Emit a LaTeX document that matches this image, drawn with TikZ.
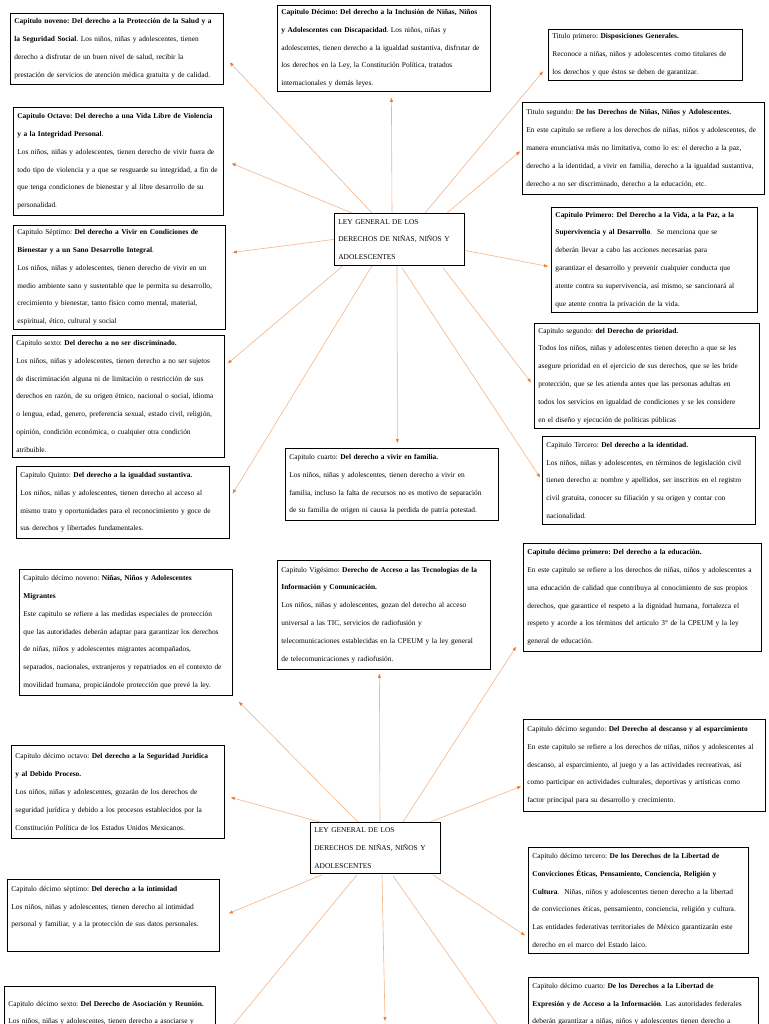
\documentclass[tikz,border=0pt]{standalone}
\usepackage{fontspec}
\setmainfont{Liberation Serif}
\usetikzlibrary{arrows.meta}
\definecolor{lineaor}{RGB}{245,180,135}
\definecolor{puntaor}{RGB}{237,125,49}
\frenchspacing

\begin{document}
\begin{tikzpicture}[x=1pt,y=-1pt,
    caja/.style 2 args={draw,line width=0.8pt,anchor=north west,align=left,
      inner xsep=4pt,inner ysep=2pt,text width=#1,minimum height=#2,
      font=\fontsize{7.4}{17.8}\selectfont},
    liga/.style={every edge/.style={draw=lineaor,line width=0.6pt,
      -{Triangle[length=4pt,width=3pt,color=puntaor]}}}]
  \fill[white] (0,0) rectangle (768,1024);
  \path[use as bounding box] (0,0) rectangle (768,1024);
  \clip (0,0) rectangle (768,1024);

  % mitad de arriba
  \node[caja={205pt}{71pt}] (cap9) at (10,13) {\textbf{Capitulo noveno: Del derecho a la Protección de la Salud y a}\\
    \textbf{la Seguridad Social}. Los niños, niñas y adolescentes, tienen\\
    derecho a disfrutar de un buen nivel de salud, recibir la\\
    prestación de servicios de atención médica gratuita y de calidad.};
  \node[caja={202pt}{108pt}] (cap8) at (13,107) {\textbf{Capitulo Octavo: Del derecho a una Vida Libre de Violencia}\\
    \textbf{y a la Integridad Personal}.\\
    Los niños, niñas y adolescentes, tienen derecho de vivir fuera de\\
    todo tipo de violencia y a que se resguarde su integridad, a fin de\\
    que tenga condiciones de bienestar y al libre desarrollo de su\\
    personalidad.};
  \node[caja={205pt}{86pt}] (cap10) at (277,5) {\textbf{Capitulo Décimo: Del derecho a la Inclusión de Niñas, Niños}\\
    \textbf{y Adolescentes con Discapacidad}. Los niños, niñas y\\
    adolescentes, tienen derecho a la igualdad sustantiva, disfrutar de\\
    los derechos en la Ley, la Constitución Política, tratados\\
    internacionales y demás leyes.};
  \node[caja={186pt}{51pt}] (tit1) at (548,29) {Titulo primero: \textbf{Disposiciones Generales.}\\
    Reconoce a niñas, niños y adolescentes como titulares de\\
    los derechos y que éstos se deben de garantizar.};
  \node[caja={234pt}{92pt}] (tit2) at (522,102) {Titulo segundo: \textbf{De los Derechos de Niñas, Niños y Adolescentes.}\\
    En este capitulo se refiere a los derechos de niñas, niños y adolescentes, de\\
    manera enunciativa más no limitativa, como lo es: el derecho a la paz,\\
    derecho a la identidad, a vivir en familia, derecho a la igualdad sustantiva,\\
    derecho a no ser discriminado, derecho a la educación, etc.};
  \node[caja={122pt}{52pt}] (ley1) at (334,213) {LEY GENERAL DE LOS\\
    DERECHOS DE NIÑAS, NIÑOS Y\\
    ADOLESCENTES};
  \node[caja={198pt}{105pt}] (cap1) at (551,207) {\textbf{Capitulo Primero: Del Derecho a la Vida, a la Paz, a la}\\
    \textbf{Supervivencia y al Desarrollo}.\ \ Se menciona que se\\
    deberán llevar a cabo las acciones necesarias para\\
    garantizar el desarrollo y prevenir cualquier conducta que\\
    atente contra su supervivencia, así mismo, se sancionará al\\
    que atente contra la privación de la vida.};
  \node[caja={204pt}{104pt}] (cap7) at (13,225) {Capitulo Séptimo: \textbf{Del derecho a Vivir en Condiciones de}\\
    \textbf{Bienestar y a un Sano Desarrollo Integral}.\\
    Los niños, niñas y adolescentes, tienen derecho de vivir en un\\
    medio ambiente sano y sustentable que le permita su desarrollo,\\
    crecimiento y bienestar, tanto físico como mental, material,\\
    espiritual, ético, cultural y social};
  \node[caja={204pt}{122pt}] (cap6) at (12,335) {Capitulo sexto: \textbf{Del derecho a no ser discriminado.}\\
    Los niños, niñas y adolescentes, tienen derecho a no ser sujetos\\
    de discriminación alguna ni de limitación o restricción de sus\\
    derechos en razón, de su origen étnico, nacional o social, idioma\\
    o lengua, edad, genero, preferencia sexual, estado civil, religión,\\
    opinión, condición económica, o cualquier otra condición\\
    atribuible.};
  \node[caja={217pt}{105pt}] (cap2) at (534,323) {Capitulo segundo: \textbf{del Derecho de prioridad.}\\
    Todos los niños, niñas y adolescentes tienen derecho a que se les\\
    asegure prioridad en el ejercicio de sus derechos, que se les bride\\
    protección, que se les atienda antes que las personas adultas en\\
    todos los servicios en igualdad de condiciones y se les considere\\
    en el diseño y ejecución de políticas públicas};
  \node[caja={205pt}{88pt}] (cap3) at (542,436) {Capitulo Tercero: \textbf{Del derecho a la identidad.}\\
    Los niños, niñas y adolescentes, en términos de legislación civil\\
    tienen derecho a: nombre y apellidos, ser inscritos en el registro\\
    civil gratuita, conocer su filiación y su origen y contar con\\
    nacionalidad.};
  \node[caja={205pt}{72pt}] (cap5) at (16,466) {Capitulo Quinto: \textbf{Del derecho a la igualdad sustantiva.}\\
    Los niños, niñas y adolescentes, tienen derecho al acceso al\\
    mismo trato y oportunidades para el reconocimiento y goce de\\
    sus derechos y libertades fundamentales.};
  \node[caja={205pt}{72pt}] (cap4) at (285,448) {Capitulo cuarto: \textbf{Del derecho a vivir en familia.}\\
    Los niños, niñas y adolescentes, tienen derecho a vivir en\\
    familia, incluso la falta de recursos no es motivo de separación\\
    de su familia de origen ni causa la perdida de patria potestad.};

  % mitad de abajo
  \node[caja={205pt}{126pt}] (cap19) at (19,569) {Capitulo décimo noveno: \textbf{Niñas, Niños y Adolescentes}\\
    \textbf{Migrantes}\\
    Este capitulo se refiere a las medidas especiales de protección\\
    que las autoridades deberán adaptar para garantizar los derechos\\
    de niñas, niños y adolescentes migrantes acompañados,\\
    separados, nacionales, extranjeros y repatriados en el contexto de\\
    movilidad humana, propiciándole protección que prevé la ley.};
  \node[caja={205pt}{109pt}] (cap20) at (277,560) {Capitulo Vigésimo: \textbf{Derecho de Acceso a las Tecnologías de la}\\
    \textbf{Información y Comunicación.}\\
    Los niños, niñas y adolescentes, gozan del derecho al acceso\\
    universal a las TIC, servicios de radiofusión y\\
    telecomunicaciones establecidas en la CPEUM y la ley general\\
    de telecomunicaciones y radiofusión.};
  \node[caja={230pt}{108pt}] (cap11) at (523,543) {\textbf{Capitulo décimo primero: Del derecho a la educación.}\\
    En este capitulo se refiere a los derechos de niñas, niños y adolescentes a\\
    una educación de calidad que contribuya al conocimiento de sus propios\\
    derechos, que garantice el respeto a la dignidad humana, fortalezca el\\
    respeto y acorde a los términos del articulo 3° de la CPEUM y la ley\\
    general de educación.};
  \node[caja={234pt}{92pt}] (cap12) at (523,719) {Capitulo décimo segundo: \textbf{Del Derecho al descanso y al esparcimiento}\\
    En este capitulo se refiere a los derechos de niñas, niños y adolescentes al\\
    descanso, al esparcimiento, al juego y a las actividades recreativas, así\\
    como participar en actividades culturales, deportivas y artísticas como\\
    factor principal para su desarrollo y crecimiento.};
  \node[caja={205pt}{93pt}] (cap18) at (11,745) {Capitulo décimo octavo: \textbf{Del derecho a la Seguridad Juridica}\\
    \textbf{y al Debido Proceso.}\\
    Los niños, niñas y adolescentes, gozarán de los derechos de\\
    seguridad jurídica y debido a los procesos establecidos por la\\
    Constitución Política de los Estados Unidos Mexicanos.};
  \node[caja={122pt}{51pt}] (ley2) at (310,822) {LEY GENERAL DE LOS\\
    DERECHOS DE NIÑAS, NIÑOS Y\\
    ADOLESCENTES};
  \node[caja={212pt}{106pt}] (cap13) at (528,847) {Capitulo décimo tercero: \textbf{De los Derechos de la Libertad de}\\
    \textbf{Convicciones Éticas, Pensamiento, Conciencia, Religión y}\\
    \textbf{Cultura}.\ \ Niñas, niños y adolescentes tienen derecho a la libertad\\
    de convicciones éticas, pensamiento, conciencia, religión y cultura.\\
    Las entidades federativas territoriales de México garantizarán este\\
    derecho en el marco del Estado laico.};
  \node[caja={204pt}{72pt}] (cap17) at (7,879) {Capitulo décimo séptimo: \textbf{Del derecho a la intimidad}\\
    Los niños, niñas y adolescentes, tienen derecho al intimidad\\
    personal y familiar, y a la protección de sus datos personales.\\
    \mbox{}};
  \node[caja={203pt}{70pt}] (cap16) at (4,986) {Capitulo décimo sexto: \textbf{Del Derecho de Asociación y Reunión.}\\
    Los niños, niñas y adolescentes, tienen derecho a asociarse y\\
    \mbox{}};
  \node[caja={222pt}{70pt}] (cap14) at (528,977) {Capitulo décimo cuarto: \textbf{De los Derechos a la Libertad de}\\
    \textbf{Expresión y de Acceso a la Información}. Las autoridades federales\\
    deberán garantizar a niñas, niños y adolescentes tienen derecho a\\
    \mbox{}};

  % puntas que salen de la hoja
  \coordinate (fin16) at (216,1046);
  \coordinate (fin15) at (385,1021);
  \coordinate (finabajo) at (508,1040);

  \path[liga]
    ([xshift=38pt]ley1.north west) edge ([xshift=6pt,yshift=-13.5pt]cap9.east)
    ([xshift=18pt]ley1.north west) edge ([xshift=8pt,yshift=-2pt]cap8.east)
    ([xshift=58pt]ley1.north west) edge ([xshift=7.5pt,yshift=-6pt]cap10.south)
    ([xshift=91pt]ley1.north west) edge ([xshift=-5pt,yshift=-16.5pt]tit1.west)
    ([xshift=113pt]ley1.north west) edge ([xshift=-2pt,yshift=-3pt]tit2.west)
    (ley1.west) edge ([xshift=7pt,yshift=25pt]cap7.east)
    ([xshift=9pt]ley1.south west) edge ([xshift=3pt,yshift=33pt]cap6.east)
    ([xshift=38pt]ley1.south west) edge ([xshift=3pt,yshift=9pt]cap5.east)
    ([xshift=63pt]ley1.south west) edge ([xshift=5.5pt,yshift=5pt]cap4.north)
    ([xshift=68pt,yshift=-2pt]ley1.south west) edge ([xshift=-2pt,yshift=3pt]cap3.west)
    ([xshift=109pt,yshift=-2pt]ley1.south west) edge ([xshift=-3pt,yshift=-6.5pt]cap2.west)
    ([yshift=-11pt]ley1.east) edge ([xshift=-3pt,yshift=-6.5pt]cap1.west);

  \path[liga]
    ([xshift=48pt]ley2.north west) edge ([xshift=6pt,yshift=-6pt]cap19.south east)
    ([xshift=70pt]ley2.north west) edge ([xshift=-4.5pt,yshift=-4pt]cap20.south)
    ([xshift=93pt]ley2.north west) edge ([xshift=-7pt,yshift=5pt]cap11.south west)
    ([xshift=10pt]ley2.north west) edge ([xshift=6pt,yshift=-5.5pt]cap18.east)
    ([xshift=120pt]ley2.north west) edge ([xshift=-2pt,yshift=-21pt]cap12.west)
    ([xshift=12pt,yshift=-1pt]ley2.south west) edge ([xshift=9pt,yshift=2pt]cap17.east)
    ([xshift=47pt,yshift=-1pt]ley2.south west) edge (fin16)
    ([xshift=72pt,yshift=-1pt]ley2.south west) edge (fin15)
    ([xshift=83pt,yshift=-2pt]ley2.south west) edge (finabajo)
    ([xshift=123pt,yshift=-1pt]ley2.south west) edge ([xshift=-3pt,yshift=-35pt]cap13.west);
\end{tikzpicture}
\end{document}
